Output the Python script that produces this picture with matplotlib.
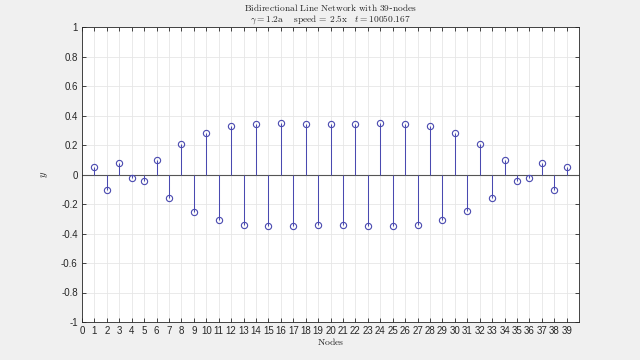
import numpy as np
import matplotlib
matplotlib.use('Agg')
import matplotlib.pyplot as plt

# node values
nodes = list(range(1, 40))
values = [0.052, -0.105, 0.077, -0.025, -0.043, 0.102, -0.159, 0.207, -0.252, 0.282,
          -0.309, 0.327, -0.343, 0.345, -0.352, 0.350, -0.350, 0.343, -0.343, 0.341,
          -0.343, 0.343, -0.350, 0.350, -0.352, 0.345, -0.343, 0.327, -0.309, 0.282,
          -0.250, 0.207, -0.159, 0.102, -0.043, -0.025, 0.077, -0.105, 0.052]
xticks = list(range(0, 40))
yticks = [round(-1 + 0.2 * i, 1) for i in range(11)]

plt.rcParams['mathtext.fontset'] = 'cm'
plt.rcParams['axes.unicode_minus'] = False

fig = plt.figure(figsize=(6.4, 3.6), dpi=100, facecolor='#f0f0f0')
ax = fig.add_axes([0.128, 0.1056, 0.777, 0.819])
ax.set_facecolor('white')

stem_col = '#4a4ab0'
ml, sl, bl = ax.stem(nodes, values, basefmt=' ')
plt.setp(sl, color=stem_col, linewidth=0.75)
sl.set_snap(True)
plt.setp(ml, markerfacecolor='none', markeredgecolor=stem_col, markersize=4.5, markeredgewidth=0.8)
ax.axhline(0, color='#555555', linewidth=0.8, zorder=1)

ax.set_xlim(0, 40)
ax.set_ylim(-1, 1)
ax.set_xticks(xticks)
ax.set_yticks(yticks)
ax.set_yticklabels([('%g' % v) for v in yticks])
ax.tick_params(direction='in', top=True, right=True, length=3, width=0.6,
               labelsize=7, colors='#262626', pad=3)
for lab in ax.get_xticklabels() + ax.get_yticklabels():
    lab.set_family('Liberation Sans')
ax.grid(True, color='#e6e6e6', linewidth=0.6)
ax.set_axisbelow(True)
for s in ax.spines.values():
    s.set_color('#262626')
    s.set_linewidth(0.6)

ax.set_xlabel(r'$\mathrm{Nodes}$', fontsize=7, labelpad=0, color='#262626')
ax.set_ylabel(r'$y$', fontsize=7.5, labelpad=8, color='#262626')

# two-line title, placed by hand like the MATLAB figure
fig.text(0.5 * (0.128 + 0.905), 1 - 7.5 / 360,
         r'$\mathrm{Bidirectional\ Line\ Network\ with\ 39}$-$\mathrm{nodes}$',
         fontsize=6.8, ha='center', va='center', color='#262626')
fig.text(0.5 * (0.128 + 0.905), 1 - 19.5 / 360,
         r'$\gamma = 1.2\mathrm{a}\quad\ \mathrm{speed}\, =\, 2.5\mathrm{x}\quad t = 10050.167$',
         fontsize=6.8, ha='center', va='center', color='#262626')

fig.savefig('out.png', dpi=100, facecolor=fig.get_facecolor())
